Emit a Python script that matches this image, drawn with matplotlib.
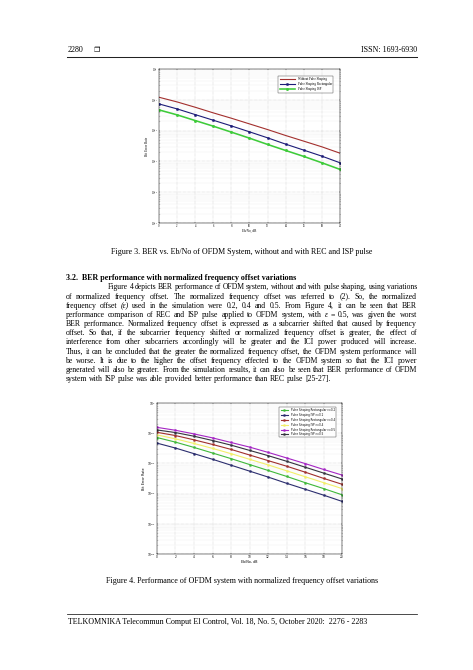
import numpy as np
import matplotlib
matplotlib.use("Agg")
import matplotlib.pyplot as plt
from matplotlib.ticker import LogLocator, NullFormatter

plt.rcParams["mathtext.fontset"] = "stix"

W, H = 474, 670
DPI = 57.32

# ---- data ----
ebno = [0, 2, 4, 6, 8, 10, 12, 14, 16, 18, 20]

# Figure 3
ber_no_pulse = [0.121, 0.0853, 0.0573, 0.0376, 0.0252, 0.0165, 0.0108, 0.00692, 0.00454, 0.00297, 0.00185]
ber_rect = [0.0735, 0.0506, 0.0331, 0.0217, 0.0142, 0.00912, 0.00582, 0.00363, 0.00232, 0.00148, 0.000902]
ber_isp = [0.0470, 0.0324, 0.0212, 0.0139, 0.00891, 0.00568, 0.00355, 0.00226, 0.00145, 0.000902, 0.00055]

# Figure 4
ber_rect_02 = [0.0718, 0.0506, 0.0338, 0.0221, 0.0144, 0.00918, 0.00585, 0.00372, 0.00231, 0.00147, 0.000914]
ber_isp_02 = [0.0469, 0.0322, 0.0210, 0.0137, 0.00873, 0.00556, 0.00354, 0.00220, 0.00140, 0.000891, 0.000553]
ber_rect_04 = [0.107, 0.0835, 0.0603, 0.0424, 0.0291, 0.0190, 0.0124, 0.00810, 0.00515, 0.00320, 0.00204]
ber_isp_04 = [0.0877, 0.0650, 0.0457, 0.0314, 0.0210, 0.0137, 0.00895, 0.00570, 0.00363, 0.00231, 0.00147]
ber_rect_05 = [0.156, 0.125, 0.0946, 0.0700, 0.0493, 0.0347, 0.0232, 0.0152, 0.00990, 0.00631, 0.00411]
ber_isp_05 = [0.128, 0.105, 0.0794, 0.0573, 0.0403, 0.0270, 0.0181, 0.0118, 0.00752, 0.00479, 0.00305]

fig3_labels = ["Without Pulse Shaping", "Pulse Shaping Rectangular", "Pulse Shaping ISP"]
fig4_labels = ["Pulse Shaping Rectangular \u03b5=0.2", "Pulse Shaping ISP \u03b5=0.2",
               "Pulse Shaping Rectangular \u03b5=0.4", "Pulse Shaping ISP \u03b5=0.4",
               "Pulse Shaping Rectangular \u03b5=0.5", "Pulse Shaping ISP \u03b5=0.5"]

caption3 = "Figure 3. BER vs. Eb/No of OFDM System, without and with REC and ISP pulse"
caption4 = "Figure 4. Performance of OFDM system with normalized frequency offset variations"
heading = "3.2.  BER performance with normalized frequency offset variations"
paragraph = [
    "Figure 4 depicts BER performance of OFDM system, without and with pulse shaping, using variations",
    "of normalized frequency offset. The normalized frequency offset was referred to (2). So, the normalized",
    "frequency offset (\u03b5) used in the simulation were 0.2, 0.4 and 0.5. From Figure 4, it can be seen that BER",
    "performance comparison of REC and ISP pulse applied to OFDM system, with \u03b5 = 0.5, was given the worst",
    "BER performance. Normalized frequency offset is expressed as a subcarrier shifted that caused by frequency",
    "offset. So that, if the subcarrier frequency shifted or normalized frequency offset is greater, the effect of",
    "interference from other subcarriers accordingly will be greater and the ICI power produced will increase.",
    "Thus, it can be concluded that the greater the normalized frequency offset, the OFDM system performance will",
    "be worse. It is due to the higher the offset frequency effected to the OFDM system so that the ICI power",
    "generated will also be greater. From the simulation results, it can also be seen that BER performance of OFDM",
    "system with ISP pulse was able provided better performance than REC pulse [25-27].",
]
footer = "TELKOMNIKA Telecommun Comput El Control, Vol. 18, No. 5, October 2020:  2276 - 2283"

SERIF = ["Liberation Serif", "DejaVu Serif"]
BODY = 9.8

fig = plt.figure(figsize=(W / DPI, H / DPI), dpi=DPI, facecolor="white")
renderer = fig.canvas.get_renderer()


def fx(x):
    return x / W


def fy(y):
    return 1 - y / H


def page_text(x, y, s, **kw):
    kw.setdefault("family", SERIF)
    kw.setdefault("fontsize", 10)
    kw.setdefault("va", "baseline")
    return fig.text(fx(x), fy(y), s, **kw)


def rule(y, x0=67, x1=417, lw=1.0):
    fig.add_artist(plt.Line2D([fx(x0), fx(x1)], [fy(y), fy(y)], color="#222222", lw=lw,
                              transform=fig.transFigure))


def word_widths(words, y, size):
    texts = []
    for w in words:
        style = "italic" if "\u03b5" in w else "normal"
        texts.append(page_text(0, y, w, fontsize=size, style=style))
    widths = [t.get_window_extent(renderer).width for t in texts]
    return texts, widths


def justify(line, y, x0, x1, last=False, size=BODY):
    words = line.split()
    space = size * DPI / 72 * 0.25
    texts, widths = word_widths(words, y, size)
    avail = x1 - x0
    min_gap = 1.6
    need = sum(widths) + (len(words) - 1) * min_gap
    if not last and need > avail:
        # squeeze a tight line a little so words keep a visible gap
        for t in texts:
            t.remove()
        size = size * (avail - (len(words) - 1) * min_gap) / sum(widths)
        texts, widths = word_widths(words, y, size)
    if last:
        gap = space
    else:
        gap = (avail - sum(widths)) / (len(words) - 1)
    x = x0
    for t, w in zip(texts, widths):
        t.set_position((fx(x), fy(y)))
        x += w + gap


def style_axes(ax, family):
    ax.set_yscale("log")
    ax.set_xlim(0, 20)
    ax.set_ylim(1e-5, 1)
    ax.set_xticks(ebno)
    ax.yaxis.set_major_locator(LogLocator(base=10, numticks=10))
    ax.yaxis.set_minor_locator(LogLocator(base=10, subs=np.arange(2, 10), numticks=10))
    ax.yaxis.set_minor_formatter(NullFormatter())
    ax.grid(True, which="major", color="#b0b0b0", ls=":", lw=0.6)
    ax.grid(True, which="minor", color="#d4d4d4", ls=":", lw=0.5)
    ax.tick_params(which="both", direction="in", top=True, right=True, labelsize=3.6,
                   length=1.5, width=0.4, pad=1.5)
    ax.tick_params(which="minor", length=0.8)
    for lab in ax.get_xticklabels() + ax.get_yticklabels():
        lab.set_family(family)
    for sp in ax.spines.values():
        sp.set_linewidth(0.6)
    ax.set_xlabel("Eb/No, dB", fontsize=4.2, family=family, labelpad=1)
    ax.set_ylabel("Bit Error Rate", fontsize=4.2, family=family, labelpad=2)


# ---- header ----
page_text(68, 52, "2280", fontsize=10)
page_text(94, 52, "\u2750", fontsize=9, family=["DejaVu Sans"])
page_text(417, 52, "ISSN: 1693-6930", fontsize=10, ha="right")
rule(57, lw=1.3)

# ---- Figure 3 ----
l, r, t, b = 159, 340, 69, 223
ax3 = fig.add_axes([fx(l), fy(b), fx(r - l), (b - t) / H])
ax3.plot(ebno, ber_no_pulse, color="#a3302e", lw=1.4, label=fig3_labels[0])
ax3.plot(ebno, ber_rect, color="#1c1c78", lw=1.4, marker="s", ms=2.0, label=fig3_labels[1])
ax3.plot(ebno, ber_isp, color="#3ecb3a", lw=2.0, marker="o", ms=2.6, label=fig3_labels[2])
style_axes(ax3, SERIF)
leg = ax3.legend(loc="upper right", prop={"family": SERIF, "size": 3.9},
                 frameon=True, fancybox=False, edgecolor="black", borderpad=0.5,
                 handlelength=5, labelspacing=0.3, bbox_to_anchor=(0.972, 0.967))
leg.get_frame().set_linewidth(0.5)

page_text(242, 254, caption3, ha="center", fontsize=10)

# ---- section text ----
head_y = 280.3
step = 9.15
page_text(66, head_y, heading, fontweight="bold", fontsize=10)
for i, line in enumerate(paragraph):
    x0 = 108 if i == 0 else 65.5
    justify(line, head_y + (i + 1) * step, x0, 417, last=(i == len(paragraph) - 1))

# ---- Figure 4 ----
l, r, t, b = 157, 342, 403, 554
ax4 = fig.add_axes([fx(l), fy(b), fx(r - l), (b - t) / H])
fig4_series = [ber_rect_02, ber_isp_02, ber_rect_04, ber_isp_04, ber_rect_05, ber_isp_05]
fig4_colors = ["#3fb83a", "#2b2d6e", "#a0302c", "#f2ef6a", "#a526c4", "#34343e"]
for s, c, lab in zip(fig4_series, fig4_colors, fig4_labels):
    ax4.plot(ebno, s, color=c, lw=1.4, marker="s", ms=1.8, label=lab)
style_axes(ax4, ["DejaVu Sans"])
leg = ax4.legend(loc="upper right", prop={"family": "DejaVu Sans", "size": 3.3},
                 frameon=True, fancybox=False, edgecolor="black", borderpad=0.4,
                 handlelength=3, labelspacing=0.3, bbox_to_anchor=(0.973, 0.98))
leg.get_frame().set_linewidth(0.5)

page_text(242.5, 583, caption4, ha="center", fontsize=10)

# ---- footer ----
rule(614, lw=1.0)
page_text(68, 624, footer, fontsize=10)

fig.savefig("out.png", dpi=DPI, facecolor="white")
